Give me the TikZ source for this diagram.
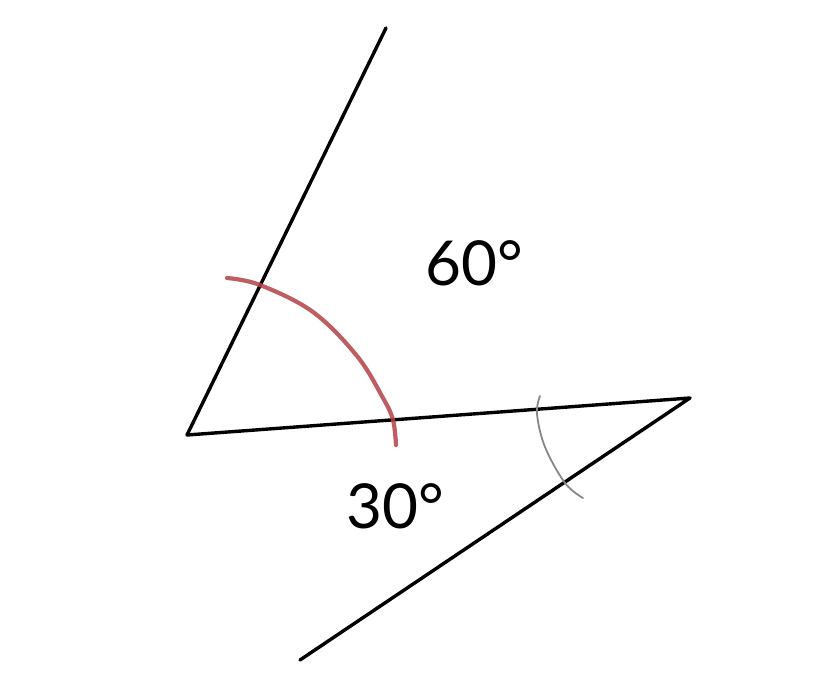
\documentclass[tikz,border=0pt]{standalone}
\usepackage{fontspec}
\setmainfont{Lato}
\begin{document}
\begin{tikzpicture}[x=1pt,y=-1pt,
  edge/.style={line width=3.4pt,line cap=round,line join=round,black},
  redarc/.style={line width=4.2pt,line cap=round,draw={rgb,255:red,180;green,66;blue,70},opacity=0.85},
  grayarc/.style={line width=1.8pt,line cap=round,draw={rgb,255:red,135;green,135;blue,135}},
  lbl/.style={font=\fontsize{62}{62}\selectfont,inner sep=0pt,anchor=base west}]
\useasboundingbox (0,0) rectangle (839,696);
\coordinate (A) at (187,435);
\coordinate (T) at (386,28);
\coordinate (B) at (690,398);
\coordinate (E) at (300,660);
\draw[edge] (T) -- (A) -- (B) -- (E);
\draw[redarc] plot[smooth,tension=0.6] coordinates {(227,278) (260,285) (313,312) (357,356) (383,398) (393,420) (396,445)};
\draw[grayarc] plot[smooth,tension=0.6] coordinates {(540,396) (537,414) (545,447) (565,483) (583,498)};
\node[lbl] (L60) at (425,285) {60°};
\node[lbl] (L30) at (346,528) {30°};
\end{tikzpicture}
\end{document}
